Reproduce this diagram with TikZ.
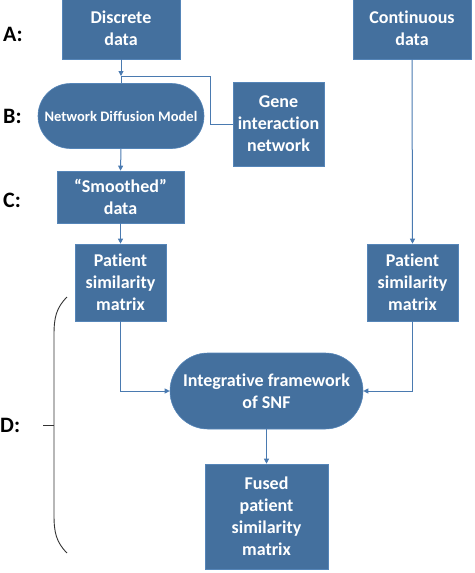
\documentclass[tikz,border=0pt]{standalone}
\usepackage{fontspec}
\setmainfont[Ligatures={NoCommon}]{Carlito}
\usetikzlibrary{arrows.meta,shapes.misc}
\definecolor{boxblue}{HTML}{44709E}
\definecolor{boxedge}{HTML}{5585B8}
\definecolor{lineblue}{HTML}{4A7AB0}
\tikzset{
  x=1pt,y=-1pt,
  blk/.style={rectangle,fill=boxblue,draw=boxedge,line width=0.6pt,text=white,
    font=\fontsize{18}{22}\selectfont\bfseries,align=center,inner sep=0pt},
  pill/.style={rounded rectangle,fill=boxblue,draw=boxedge,line width=0.6pt,text=white,
    align=center,inner sep=0pt},
  conn/.style={draw=lineblue,line width=1pt,-{Triangle[length=5pt,width=5pt]}},
  plain/.style={draw=lineblue,line width=1pt},
  lbl/.style={font=\fontsize{22}{26}\selectfont\bfseries,text=black,anchor=west,inner sep=0pt},
}
\begin{document}
\begin{tikzpicture}
\useasboundingbox (0,0) rectangle (474,573);
% nodes
\node[blk,minimum width=118,minimum height=62] (disc) at (121,28) {Discrete\\data};
\node[blk,minimum width=118,minimum height=62] (cont) at (412,28) {Continuous\\data};
\node[pill,minimum width=166,minimum height=65,font=\fontsize{14.5}{18}\selectfont\bfseries] (ndm) at (121,116) {Network Diffusion Model};
\node[blk,minimum width=91,minimum height=84] (gene) at (278.5,124) {Gene\\interaction\\network};
\node[blk,minimum width=127,minimum height=52] (smooth) at (120.5,197) {“Smoothed”\\data};
\node[blk,minimum width=91,minimum height=77] (psl) at (120.5,282.5) {Patient\\similarity\\matrix};
\node[blk,minimum width=91,minimum height=77] (psr) at (412.5,282.5) {Patient\\similarity\\matrix};
\node[pill,minimum width=193,minimum height=76,font=\fontsize{18}{22}\selectfont\bfseries] (snf) at (266.5,391) {Integrative framework\\of SNF};
\node[blk,minimum width=123,minimum height=105] (fused) at (266.5,516.5) {Fused\\patient\\similarity\\matrix};
% labels
\node[lbl] (la) at (3,34) {A:};
\node[lbl] (lb) at (3,116) {B:};
\node[lbl] (lc) at (3,200) {C:};
\node[lbl] (ld) at (0,425) {D:};
% connectors
\coordinate (j) at (121,76);
\coordinate (gk) at (210,76);
\draw[conn] (disc.south) -- (j);
\draw[plain] (gene.west |- 0,124) -| (gk) -- (j);
\draw[plain] (j) -- (ndm.north);
\draw[conn] (ndm.south) -- (smooth.north);
\draw[conn] (smooth.south) -- (psl.north);
\draw[conn] (cont.south) -- (psr.north);
\draw[conn] (psl.south) |- (snf.west);
\draw[conn] (psr.south) |- (snf.east);
\draw[conn] (snf.south) -- (fused.north);
% bracket
\coordinate (b1) at (67,297);
\coordinate (b2) at (67,553);
\coordinate (bt) at (43,425);
\draw[black!80,line width=0.9pt] (b1) .. controls (56,308) and (54,318) .. (54,335) -- (54,515) .. controls (54,532) and (56,542) .. (b2);
\draw[black!80,line width=0.9pt] (bt) -- (54,425);
\end{tikzpicture}
\end{document}
